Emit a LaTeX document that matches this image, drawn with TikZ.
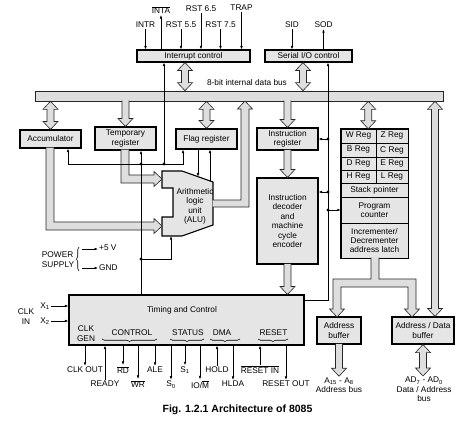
\documentclass[tikz,border=0pt]{standalone}
\usepackage{fontspec}
\setmainfont{Liberation Sans}
\usetikzlibrary{arrows.meta,calc,decorations.pathreplacing}

\definecolor{boxgray}{RGB}{229,229,229}
\definecolor{busgray}{RGB}{222,222,222}

\newcommand\busw{3.5pt}
\newcommand\headw{7.5pt}
\newcommand\headl{8pt}

% wide bus arrow, head at the second point
\newcommand\wsarrow[2]{%
  \filldraw[wbus] let \p1=#1, \p2=#2, \n1={sign(\y2-\y1)*\headl}, \n2={sign(\y2-\y1)*0.8} in
    ({\x1-\busw},{\y1-(\n2)}) -- ({\x1-\busw},{\y2-(\n1)}) -- ({\x1-\headw},{\y2-(\n1)}) -- (\x1,\y2)
    -- ({\x1+\headw},{\y2-(\n1)}) -- ({\x1+\busw},{\y2-(\n1)}) -- ({\x1+\busw},{\y1-(\n2)});}
% wide bus arrow, heads at both ends
\newcommand\wdarrow[2]{%
  \filldraw[wbus] let \p1=#1, \p2=#2, \n1={sign(\y2-\y1)*\headl} in
    (\x1,\y1) -- ({\x1-\headw},{\y1+(\n1)}) -- ({\x1-\busw},{\y1+(\n1)}) -- ({\x1-\busw},{\y2-(\n1)})
    -- ({\x1-\headw},{\y2-(\n1)}) -- (\x1,\y2) -- ({\x1+\headw},{\y2-(\n1)}) -- ({\x1+\busw},{\y2-(\n1)})
    -- ({\x1+\busw},{\y1+(\n1)}) -- ({\x1+\headw},{\y1+(\n1)}) -- cycle;}

\begin{document}
\begin{tikzpicture}[x=1pt,y=-1pt,
  every node/.style={font=\fontsize{8.3}{9.4}\selectfont},
  blk/.style={draw,line width=1.1pt,fill=boxgray,inner sep=1pt,align=center},
  cell/.style={draw,line width=0.5pt,fill=boxgray,inner sep=0pt,align=center},
  lbl/.style={inner sep=1pt,align=center},
  wbus/.style={fill=busgray,draw=black!85,line width=0.6pt},
  sig/.style={line width=0.6pt,-{Latex[length=3.5pt,width=2.6pt]}},
  brc/.style={decorate,decoration={brace,amplitude=2.5pt},line width=0.6pt}]
 \useasboundingbox (0,0) rectangle (474,428);

 % interrupt and serial blocks
 \node[blk,minimum width=113pt,minimum height=12pt] (ic) at (193.5,56) {Interrupt control};
 \node[blk,minimum width=87pt,minimum height=12pt] (sio) at (308.5,56) {Serial I/O control};
 \node[lbl] (inta) at (161,10) {$\overline{\mbox{INTA}}$};
 \node[lbl] (rst65) at (201,9) {RST 6.5};
 \node[lbl] (trap) at (241.5,8) {TRAP};
 \node[lbl] (intr) at (145.5,25) {INTR};
 \node[lbl] (rst55) at (181,25) {RST 5.5};
 \node[lbl] (rst75) at (220.5,25) {RST 7.5};
 \node[lbl] (sid) at (292,25) {SID};
 \node[lbl] (sod) at (323.5,25) {SOD};

 % internal data bus
 \node[draw=black!85,line width=0.6pt,fill=busgray,minimum width=408pt,minimum height=10pt,inner sep=0pt] (bus) at (239,96) {};
 \node[lbl] (buslbl) at (247,83) {8-bit internal data bus};

 % registers
 \node[blk,minimum width=61pt,minimum height=18pt] (acc) at (50.5,139) {Accumulator};
 \node[blk,minimum width=61pt,minimum height=23pt] (tmp) at (125.5,138.5) {Temporary\\register};
 \node[blk,minimum width=61pt,minimum height=20pt] (flag) at (206.5,139) {Flag register};
 \node[blk,minimum width=61pt,minimum height=22pt] (ir) at (287.5,139) {Instruction\\register};
 \node[blk,minimum width=61pt,minimum height=86pt] (dec) at (287.5,221) {Instruction\\decoder\\and\\machine\\cycle\\encoder};

 % register array
 \node[cell,minimum width=35pt,minimum height=14pt] (w) at (358.5,136) {W Reg};
 \node[cell,minimum width=32pt,minimum height=14pt] (z) at (392,136) {Z Reg};
 \node[cell,minimum width=35pt,minimum height=14pt] (b) at (358.5,150) {B Reg};
 \node[cell,minimum width=32pt,minimum height=14pt] (c) at (392,150) {C Reg};
 \node[cell,minimum width=35pt,minimum height=13pt] (d) at (358.5,163.5) {D Reg};
 \node[cell,minimum width=32pt,minimum height=13pt] (e) at (392,163.5) {E Reg};
 \node[cell,minimum width=35pt,minimum height=13pt] (h) at (358.5,176.5) {H Reg};
 \node[cell,minimum width=32pt,minimum height=13pt] (l) at (392,176.5) {L Reg};
 \node[cell,minimum width=67pt,minimum height=14pt] (sp) at (374.5,190) {Stack pointer};
 \node[cell,minimum width=67pt,minimum height=26pt] (pc) at (374.5,210) {Program\\counter};
 \node[cell,minimum width=67pt,minimum height=35pt] (inc) at (374.5,240.5) {Incrementer/\\Decrementer\\address latch};
 \draw[line width=1.1pt] (w.north west) rectangle (inc.south east);

 % buffers
 \node[blk,minimum width=44pt,minimum height=27pt] (ab) at (339,330.5) {Address\\buffer};
 \node[blk,minimum width=62pt,minimum height=27pt] (adb) at (423,330.5) {Address / Data\\buffer};
 \node[lbl] (abus) at (339,385) {A\textsubscript{15} - A\textsubscript{8}\\Address bus};
 \node[lbl] (adbus) at (424,389.5) {AD\textsubscript{7} - AD\textsubscript{0}\\Data / Address\\bus};

 % timing and control
 \node[blk,minimum width=235pt,minimum height=50pt] (tmg) at (186.5,320) {};
 \node[lbl] (tctxt) at (182,310) {Timing and Control};
 \node[lbl] (clkgen) at (86,333.5) {CLK\\GEN};
 \node[lbl] (ctl) at (132,333) {CONTROL};
 \node[lbl] (stat) at (188,333) {STATUS};
 \node[lbl] (dma) at (222,333) {DMA};
 \node[lbl] (rst) at (273.5,333) {RESET};
 \draw[brc] (157,339) -- (102,339);
 \draw[brc] (204,339) -- (170,339);
 \draw[brc] (240,339) -- (210,339);
 \draw[brc] (288,339) -- (258,339);

 \node[lbl] (clkin) at (26,316.5) {CLK\\IN};
 \node[lbl] (x1) at (45,306) {X\textsubscript{1}};
 \node[lbl] (x2) at (45,321) {X\textsubscript{2}};

 \node[lbl,align=left] (psu) at (58,259.5) {POWER\\SUPPLY};
 \draw[brc] (79,271) -- (79,247);
 \node[lbl,anchor=west] (p5) at (98,248) {+5 V};
 \node[lbl,anchor=west] (gnd) at (98,268) {GND};
 \coordinate (p5a) at (82,249);
 \coordinate (gnda) at (82,268);

 % pins below
 \node[lbl] (clko) at (85,370) {CLK OUT};
 \node[lbl] (ready) at (105,384) {READY};
 \node[lbl] (rd) at (123,370) {$\overline{\mbox{RD}}$};
 \node[lbl] (wr) at (138,384) {$\overline{\mbox{WR}}$};
 \node[lbl] (ale) at (155,370) {ALE};
 \node[lbl] (s0) at (171,384.5) {S\textsubscript{0}};
 \node[lbl] (s1) at (185,370) {S\textsubscript{1}};
 \node[lbl] (iom) at (200,384.5) {IO/$\overline{\mbox{M}}$};
 \node[lbl] (hold) at (217,370) {HOLD};
 \node[lbl] (hlda) at (233,384) {HLDA};
 \node[lbl] (rsti) at (260,370) {$\overline{\mbox{RESET IN}}$};
 \node[lbl] (rsto) at (286,384) {RESET OUT};

 \node[font=\bfseries\fontsize{10.5}{12}\selectfont] (cap) at (237.5,410) {Fig. 1.2.1 Architecture of 8085};

 % ALU
 \draw[line width=1.1pt,fill=boxgray] (162,171) -- (182,171) -- (213,182) -- (213,225) -- (182,236) -- (162,236)
   -- (162,217) -- (173,217) -- (173,188) -- (162,188) -- cycle;
 \node[lbl] (alu) at (195,206.5) {Arithmetic\\logic\\unit\\(ALU)};
 \coordinate (alufi) at (198,176.7);
 \coordinate (alufo) at (210,180.9);
 \coordinate (aluc) at (171,236);

 % wide buses
 \coordinate (icb) at ([xshift=-8.5pt]ic.south);
 \coordinate (siob) at ([xshift=-5.5pt]sio.south);
 \coordinate (rabus) at ([xshift=-8pt]w.north east);
 \coordinate (adup) at ([xshift=12pt]adb.north);
 \wdarrow{(icb)}{(icb |- bus.north)}
 \wdarrow{(siob)}{(siob |- bus.north)}
 \wdarrow{(acc.north |- bus.south)}{(acc.north)}
 \wsarrow{(tmp.north |- bus.south)}{(tmp.north)}
 \wdarrow{(flag.north |- bus.south)}{(flag.north)}
 \wsarrow{(ir.north |- bus.south)}{(ir.north)}
 \wdarrow{(rabus |- bus.south)}{(rabus)}
 \wdarrow{(adup |- bus.south)}{(adup)}
 \wsarrow{(ir.south)}{(dec.north)}
 \wsarrow{(dec.south)}{(dec.south |- tmg.north)}
 \wsarrow{(ab.south)}{(ab.south |- abus.north)}
 \wdarrow{(adb.south)}{(adb.south |- adbus.north)}
 % temporary register to ALU
 \filldraw[wbus] (121,149.5) -- (121,183) -- (154,183) -- (154,186.5) -- (162,179) -- (154,171.5) -- (154,175) -- (129,175) -- (129,149.5);
 % accumulator to ALU
 \filldraw[wbus] (46,147.5) -- (46,230) -- (154,230) -- (154,233.5) -- (162,226) -- (154,218.5) -- (154,222) -- (54,222) -- (54,147.5);
 % ALU to data bus
 \filldraw[wbus] (212.5,200) -- (241,200) -- (241,109) -- (237.5,109) -- (245,101) -- (252.5,109) -- (249,109) -- (249,207) -- (212.5,207);
 % address latch to buffers
 \filldraw[wbus] (371,257.5) -- (371,279) -- (333,279) -- (333,309) -- (329.5,309) -- (337,317) -- (344.5,309) -- (341,309)
   -- (341,287) -- (408,287) -- (408,309) -- (404.5,309) -- (412,317) -- (419.5,309) -- (416,309) -- (416,279) -- (379,279) -- (379,257.5);

 % control lines
 \coordinate (cj) at (141,164);
 \coordinate (cp) at (141,259);
 \coordinate (ci) at (164,164);
 \coordinate (sx) at (328,300);
 \coordinate (dd) at (328,192);
 \draw[sig] (cj |- tmg.north) -- (cj |- tmp.south);
 \draw[sig] (cj) -| ([xshift=17.5pt]acc.south);
 \draw[sig] (cj) -| ([xshift=-23.5pt]flag.south);
 \draw[sig] (ci) -- (ci |- ic.south);
 \draw[sig] (cp) -| (aluc);
 \draw[sig] (flag.south -| alufi) -- (alufi);
 \draw[sig] (alufo) -- (flag.south -| alufo);
 \draw[sig] (sx -| tmg.east) -- (sx) -- (sio.south -| sx);
 \draw[sig] (sx |- ir.east) -- (ir.east);
 \draw[sig] (dd) -- (dd -| dec.east);
 \draw[sig] (sx |- pc.west) -- (pc.west);
 \foreach \p in {cj,ci,cp,dd} \fill (\p) circle (1.6pt);
 \fill (sx |- ir.east) circle (1.6pt);
 \fill (sx |- pc.west) circle (1.6pt);

 % external pins
 \foreach \s in {intr,rst55,rst65,rst75,trap} \draw[sig] (\s.south) -- (\s |- ic.north);
 \draw[sig] (inta |- ic.north) -- (inta.south);
 \draw[sig] (sid.south) -- (sid |- sio.north);
 \draw[sig] (sod |- sio.north) -- (sod.south);
 \draw[sig] (x1.east) -- (x1 -| tmg.west);
 \draw[sig] (x2.east) -- (x2 -| tmg.west);
 \draw[sig] (p5a) -- (p5a -| p5.west);
 \draw[sig] (gnda) -- (gnda -| gnd.west);
 \foreach \s in {clko,rd,wr,ale,s0,s1,iom,hlda,rsto} \draw[sig] (\s |- tmg.south) -- (\s.north);
 \foreach \s in {ready,hold,rsti} \draw[sig] (\s.north) -- (\s |- tmg.south);
\end{tikzpicture}
\end{document}
